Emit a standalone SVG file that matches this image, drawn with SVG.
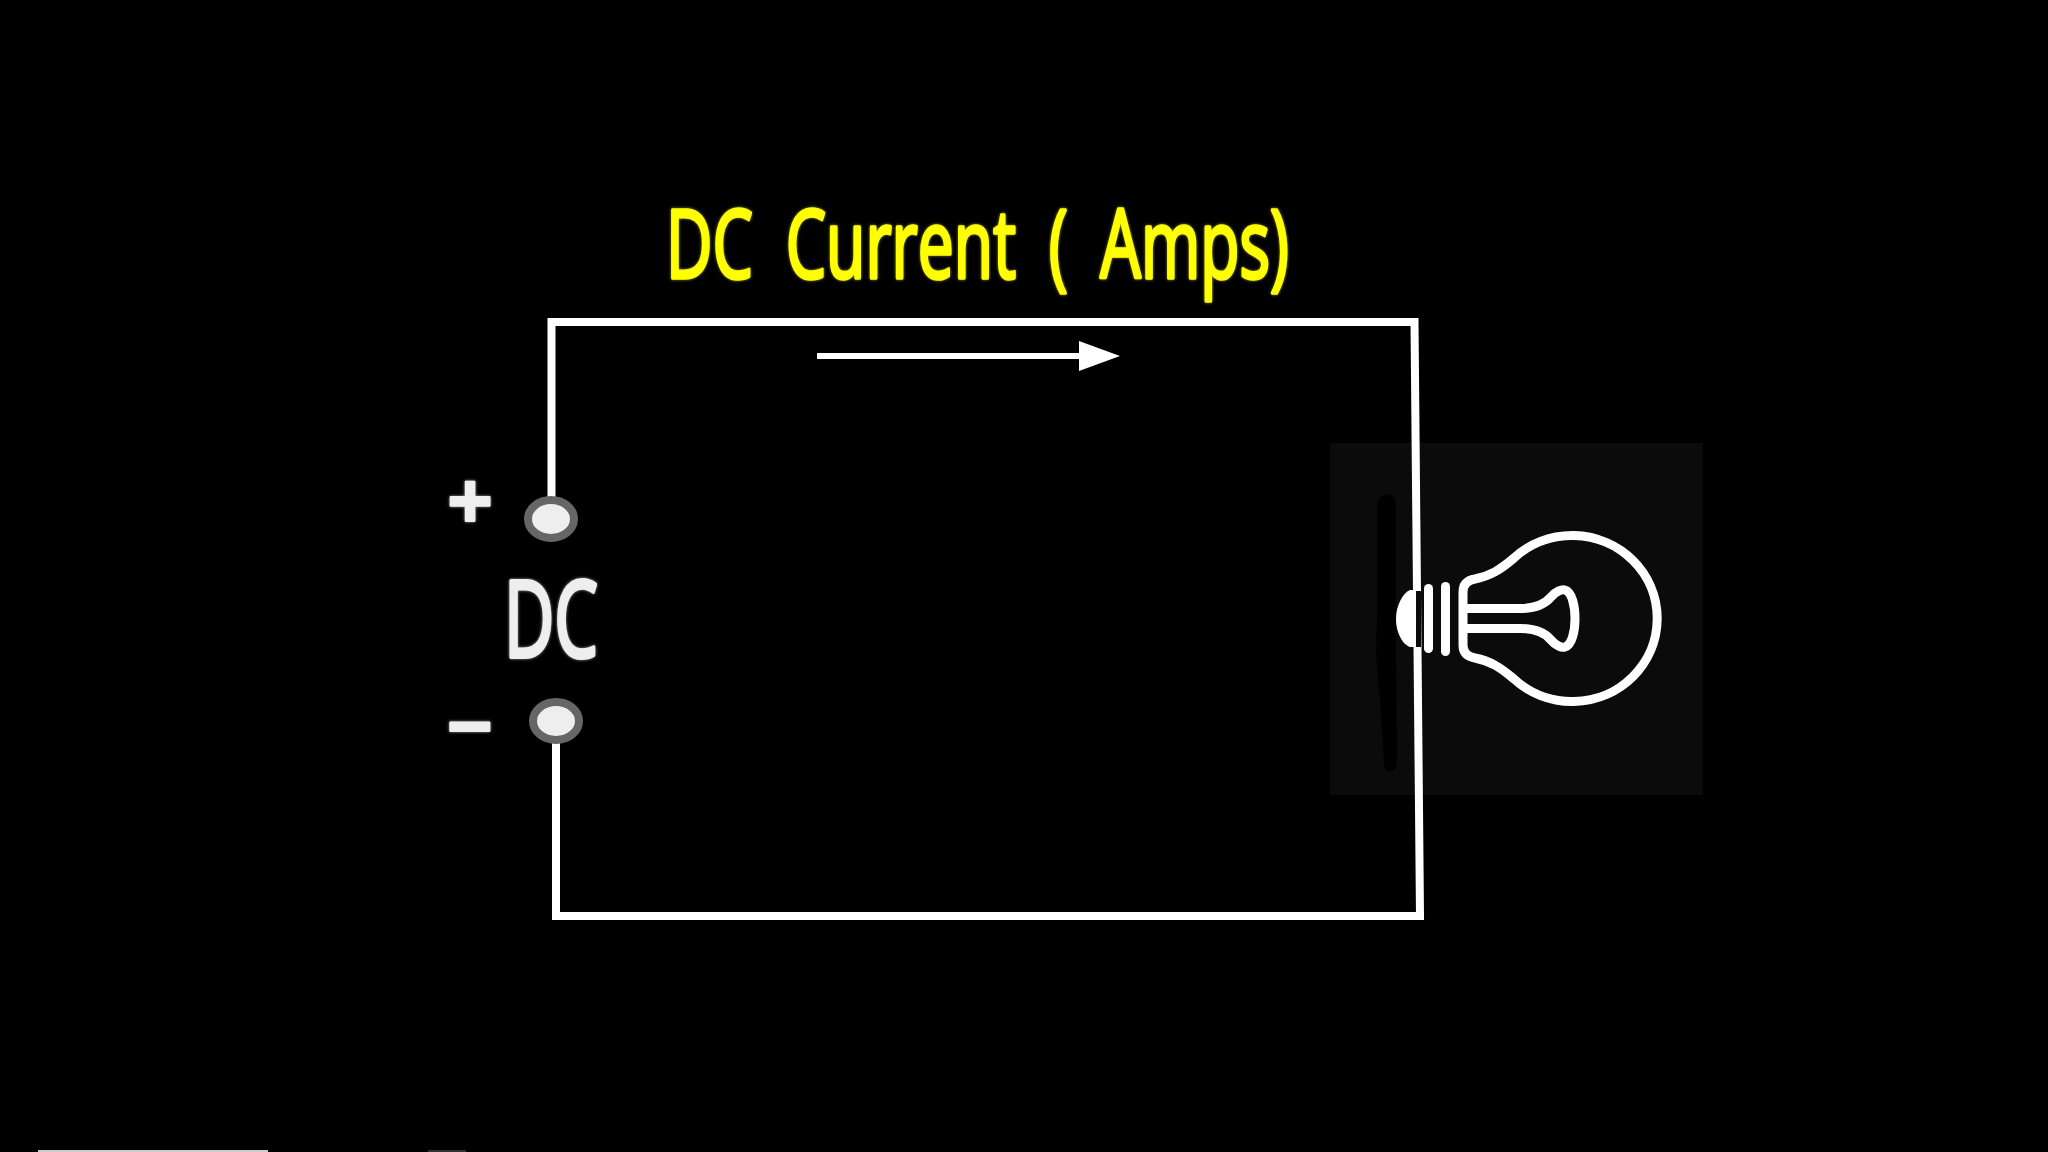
<svg xmlns="http://www.w3.org/2000/svg" width="2048" height="1152" viewBox="0 0 2048 1152">
<style>
.wire{stroke:#fff;stroke-width:8;fill:none;stroke-linecap:square;stroke-linejoin:bevel}
.bulb{stroke:#fff;stroke-width:9;fill:none;stroke-linejoin:round}
.term{fill:#eee;stroke:#666;stroke-width:8}
.t{font-family:"Open Sans","Liberation Sans",sans-serif;stroke-linejoin:round;stroke-linecap:round}
.title{font-size:96px;fill:#ff0;stroke:#ff0;stroke-width:3.500px;word-spacing:24px;filter:drop-shadow(0 0 1.500px #8a8a20)}
.dc{font-size:106px;fill:#eee;stroke:#eee;stroke-width:4px;filter:drop-shadow(0 0 1.500px #999)}
.sign{font-size:80px;font-weight:700;fill:#eee;stroke:#eee;stroke-width:2px;filter:drop-shadow(0 0 1.500px #999)}
</style>
<rect width="2048" height="1152" fill="#000"/>
<rect x="38" y="1150" width="230" height="2" fill="#ccc"/>
<rect x="428" y="1150" width="38" height="2" fill="#333"/>
<g id="lamp-panel">
<rect x="1330" y="443" width="373" height="352" fill="#0b0b0b"/>
<path d="M1387 494C1392 494 1396 498 1396 505V650L1397 762C1397 768 1394 771 1390 771C1386 771 1384 768 1384 762L1380 700C1377 670 1375 650 1377 620V505C1378 498 1382 494 1387 494Z" fill="#000"/>
</g>
<g id="connectors">
<path class="wire" d="M551.500 500V322M551.500 322H1414.500M1414.500 322L1420 916M1420 916H556M556 916V745"/>
<path d="M817 356H1082" stroke="#fff" stroke-width="6" fill="none"/>
<polygon points="1079,341 1120,356 1079,371" fill="#fff"/>
</g>
<g id="bulb">
<rect x="1416" y="591" width="5" height="56" fill="#0b0b0b"/>
<path d="M1416 590H1410C1403 593 1396 605 1396 619C1396 633 1403 645 1410 647H1416Z" fill="#fff"/>
<rect x="1424" y="584" width="9" height="69" rx="4.500" fill="#fff"/>
<rect x="1441" y="582" width="9" height="74" rx="4.500" fill="#fff"/>
<path class="bulb" d="M1463 592Q1463 581 1475 579C1490 576 1500 570 1514 558A85 83 0 1 1 1514 679C1500 667 1490 661 1475 658Q1463 656 1463 645Z"/>
<path class="bulb" d="M1463 608.500H1520C1535 608.500 1545 604 1551 597C1556 591 1562 589 1565 590C1572 592 1575 606 1575 618.500C1575 631 1572 645 1565 647C1562 648 1556 646 1551 640C1545 633 1535 628.500 1520 628.500H1463"/>
</g>
<g id="terminal-plus"><ellipse class="term" cx="551" cy="519" rx="23" ry="19"/></g>
<g id="terminal-minus"><ellipse class="term" cx="556" cy="721" rx="23" ry="19"/></g>
<g id="labels">
<text class="t title" x="666" y="278" textLength="623" lengthAdjust="spacingAndGlyphs">DC Current ( Amps)</text>
<text class="t dc" x="504" y="657" textLength="94" lengthAdjust="spacingAndGlyphs">DC</text>
<text class="t sign" x="470" y="530" text-anchor="middle">+</text>
<text class="t sign" x="447" y="755" textLength="46" lengthAdjust="spacingAndGlyphs">−</text>
</g>
</svg>
